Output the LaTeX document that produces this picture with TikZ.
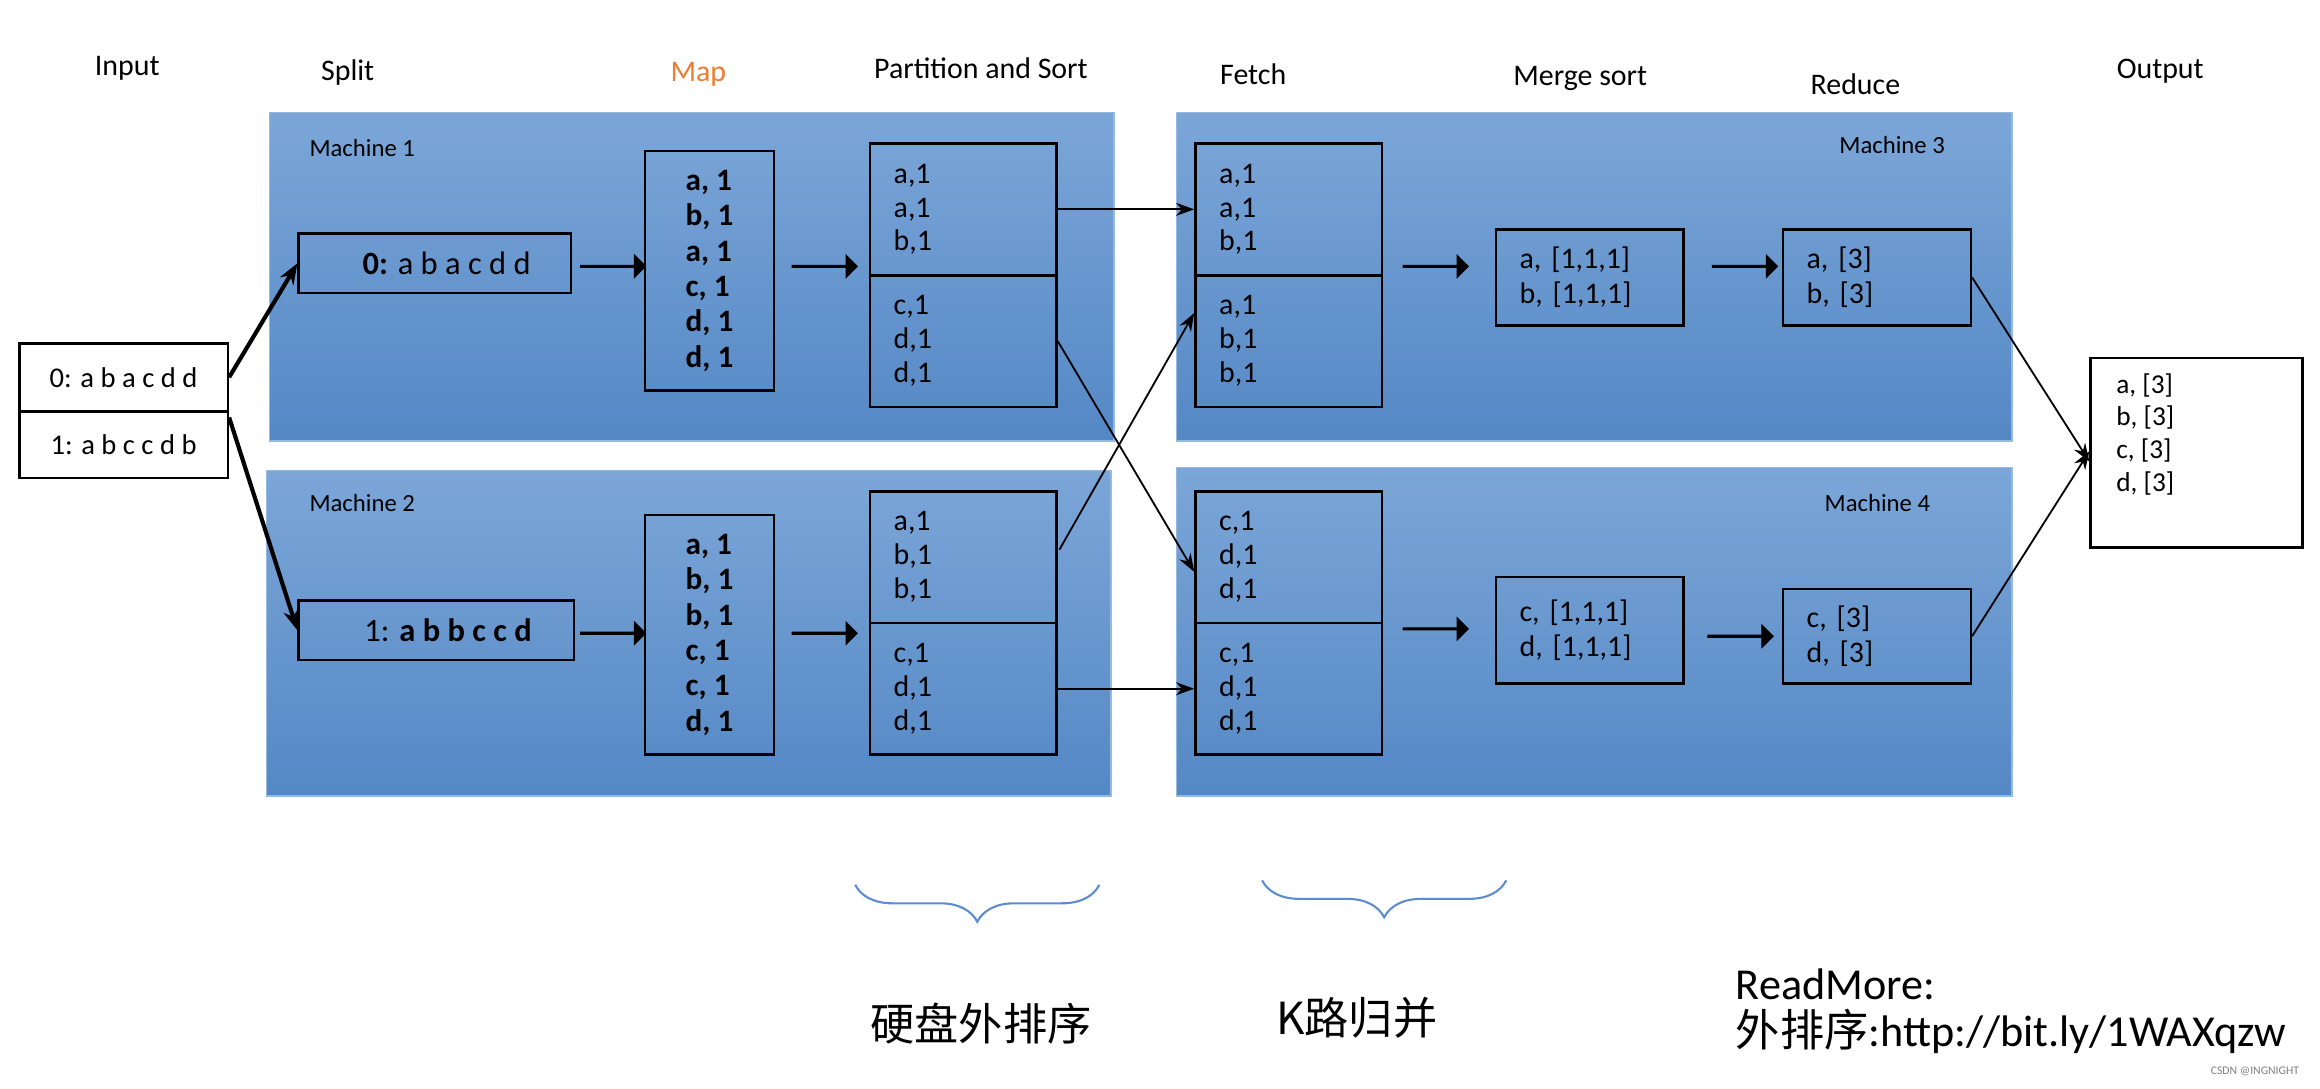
\documentclass[tikz,border=0pt]{standalone}
\usepackage{fontspec}
\setmainfont{Carlito}
\newfontfamily\cjk{Noto Sans CJK SC}
\usetikzlibrary{shapes.arrows,arrows.meta,decorations.pathreplacing}
\definecolor{mtop}{RGB}{124,166,216}
\definecolor{mbot}{RGB}{84,136,197}
\definecolor{mborder}{RGB}{150,185,225}
\definecolor{mapor}{RGB}{237,125,49}
\definecolor{brc}{RGB}{91,140,210}
\begin{document}
\begin{tikzpicture}[x=0.02cm,y=-0.02cm,
  hdr/.style={font=\fontsize{11.5}{13}\selectfont},
  mach/.style={draw=mborder,line width=0.6pt,top color=mtop,bottom color=mbot,minimum width=#1},
  mlab/.style={font=\fontsize{9.5}{11}\selectfont},
  box/.style={draw=black,line width=1pt,inner sep=0pt},
  half/.style={box,minimum width=2.52cm,minimum height=1.78cm,align=left,inner xsep=0.32cm,text width=1.88cm,font=\fontsize{11.5}{13}\selectfont},
  small/.style={box,minimum width=2.54cm,minimum height=#1,align=left,inner xsep=0.32cm,text width=1.9cm,font=\fontsize{11.5}{13.5}\selectfont},
  barrow/.style={single arrow,fill=black,draw=black,minimum height=0.88cm,minimum width=0.3cm,single arrow head extend=0.07cm,inner sep=0pt},
  link/.style={line width=0.7pt,-{Stealth[length=7pt,width=5pt]}},
  tlink/.style={line width=1.6pt,-{Stealth[length=8pt,width=6pt]}},
  brace/.style={draw=brc,line width=0.8pt,decorate,decoration={brace,amplitude=0.5cm}}
]
\useasboundingbox (0,0) rectangle (1568,736);
% headers
\node[hdr] (hin) at (86,46) {Input};
\node[hdr] (hsp) at (235,49) {Split};
\node[hdr,text=mapor] (hmap) at (472,50) {Map};
\node[hdr] (hps) at (663,46) {Partition and Sort};
\node[hdr] (hfe) at (847,50) {Fetch};
\node[hdr] (hms) at (1068,53) {Merge sort};
\node[hdr] (hre) at (1254,57) {Reduce};
\node[hdr] (hout) at (1460,48) {Output};
% machines
\node[mach=11.42cm,minimum height=4.44cm,inner sep=0pt] (m1) at (467.5,187) {};
\node[mach=11.42cm,minimum height=4.40cm,inner sep=0pt] (m2) at (465.5,428) {};
\node[mach=11.30cm,minimum height=4.44cm,inner sep=0pt] (m3) at (1077.5,187) {};
\node[mach=11.30cm,minimum height=4.44cm,inner sep=0pt] (m4) at (1077.5,427) {};
\node[mlab,anchor=west] (l1) at (203,100) {Machine 1};
\node[mlab,anchor=west] (l2) at (203,340) {Machine 2};
\node[mlab,anchor=west] (l3) at (1237,98) {Machine 3};
\node[mlab,anchor=west] (l4) at (1227,340) {Machine 4};
% input
\node[box,fill=white,minimum width=2.82cm,minimum height=0.92cm,font=\fontsize{11}{13}\selectfont] (in0) at (83.5,255) {0: a b a c d d};
\node[box,fill=white,minimum width=2.82cm,minimum height=0.90cm,font=\fontsize{11}{13}\selectfont] (in1) at (83.5,300.5) {1: a b c c d b};
% split
\node[box,minimum width=3.68cm,minimum height=0.8cm,font=\fontsize{12.5}{14}\selectfont,anchor=west] (s0) at (201,178) {\hspace{0.32cm}\textbf{0:} a b a c d d\hspace{0.7cm}};
\node[box,minimum width=3.72cm,minimum height=0.8cm,font=\fontsize{12.5}{14}\selectfont,anchor=west] (s1) at (201,426) {\hspace{0.32cm}1: \textbf{a b b c c d}\hspace{0.7cm}};
% map
\node[box,minimum width=1.74cm,minimum height=3.24cm,align=left,font=\bfseries\fontsize{12}{13.6}\selectfont] (mp0) at (479.5,183) {a, 1\\b, 1\\a, 1\\c, 1\\d, 1\\d, 1};
\node[box,minimum width=1.74cm,minimum height=3.24cm,align=left,font=\bfseries\fontsize{12}{13.6}\selectfont] (mp1) at (479.5,429) {a, 1\\b, 1\\b, 1\\c, 1\\c, 1\\d, 1};
% partition
\node[half] (p1a) at (651,141.5) {a,1\\a,1\\b,1};
\node[half] (p1b) at (651,230.5) {c,1\\d,1\\d,1};
\node[half] (p2a) at (651,376.5) {a,1\\b,1\\b,1};
\node[half] (p2b) at (651,465.5) {c,1\\d,1\\d,1};
% fetch
\node[half] (f3a) at (871,141.5) {a,1\\a,1\\b,1};
\node[half] (f3b) at (871,230.5) {a,1\\b,1\\b,1};
\node[half] (f4a) at (871,376.5) {c,1\\d,1\\d,1};
\node[half] (f4b) at (871,465.5) {c,1\\d,1\\d,1};
% merge
\node[small=1.3cm] (ms3) at (1074.5,187.5) {a, [1,1,1]\\b, [1,1,1]};
\node[small=1.44cm] (ms4) at (1074.5,426) {c, [1,1,1]\\d, [1,1,1]};
% reduce
\node[small=1.3cm] (r3) at (1268.5,187.5) {a, [3]\\b, [3]};
\node[small=1.28cm] (r4) at (1268.5,430) {c, [3]\\d, [3]};
% output
\node[box,fill=white,minimum width=2.86cm,minimum height=2.56cm] (out) at (1484.5,306) {};
\node[anchor=north west,align=left,inner sep=0pt,font=\fontsize{10.5}{12.6}\selectfont] (outt) at (1430,252) {a, [3]\\b, [3]\\c, [3]\\d, [3]};
% block arrows
\node[barrow] (b1) at (414,180) {};
\node[barrow] (b2) at (557,180) {};
\node[barrow] (b3) at (414,428) {};
\node[barrow] (b4) at (557,428) {};
\node[barrow] (b5) at (970,180) {};
\node[barrow] (b6) at (1179,180) {};
\node[barrow] (b7) at (970,425) {};
\node[barrow] (b8) at (1176,430) {};
% connectors
\draw[tlink] (in0.east) -- (s0.west);
\draw[tlink] ([yshift=-0.1cm]in1.north east) -- (s1.west);
\draw[link] (p1a.east) -- (f3a.west);
\draw[link] (p1b.east) -- ([yshift=-0.2cm]f4a.west);
\draw[link] ([yshift=0.1cm]p2a.east -| 716,0) -- ([yshift=0.38cm]f3b.west);
\draw[link] (p2b.east) -- (f4b.west);
\draw[link] (r3.east) -- ([yshift=-0.12cm]out.west);
\draw[link] (r4.east) -- ([yshift=0.02cm]out.west);
% braces
\draw[brace] (743,598) coordinate (bra) -- (578,598) coordinate (brb);
\draw[brace] (1018,595) coordinate (brc) -- (853,595) coordinate (brd);
\node[font=\cjk\fontsize{17}{20}\selectfont] (t1) at (663,692) {硬盘外排序};
\node[font=\cjk\fontsize{17}{20}\selectfont] (t2) at (917,688) {K路归并};
\node[anchor=west,font=\fontsize{17}{20}\selectfont] (rm) at (1167,665) {ReadMore:};
\node[anchor=west,font=\fontsize{17}{20}\selectfont] (rm2) at (1167,697) {{\cjk 外排序}:http://bit.ly/1WAXqzw};
\node[anchor=east,text=gray,font=\fontsize{4.5}{5}\selectfont] (wm) at (1560,724) {CSDN @INGNIGHT};
\end{tikzpicture}
\end{document}
